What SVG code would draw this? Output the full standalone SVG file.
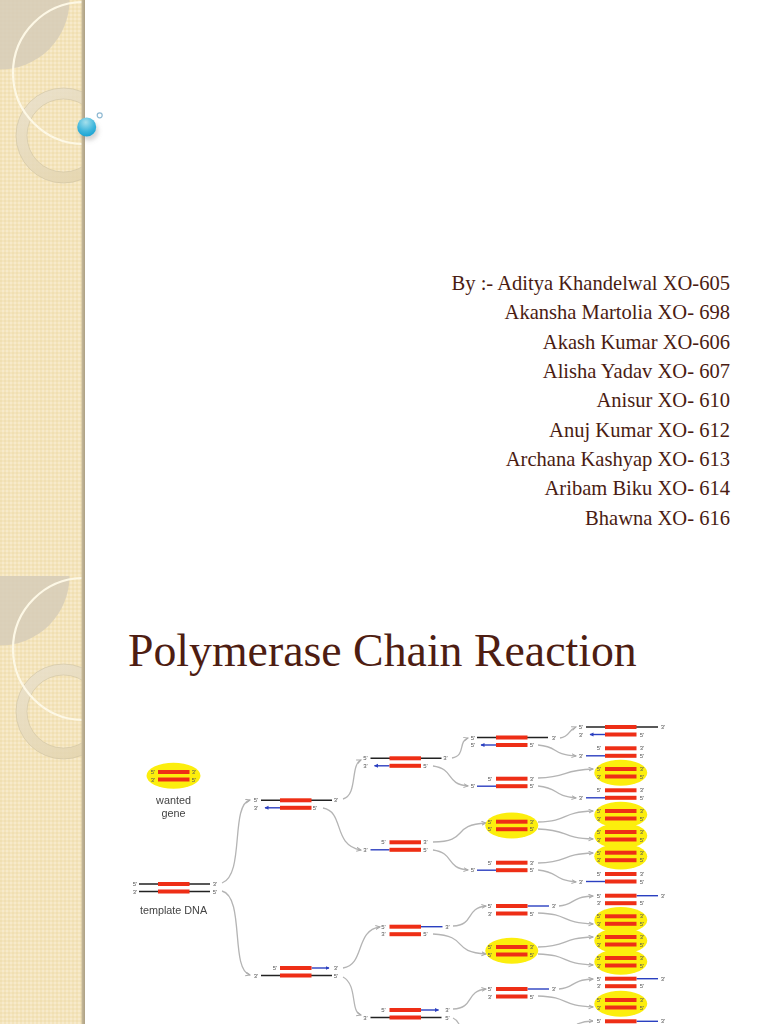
<svg xmlns="http://www.w3.org/2000/svg" width="768" height="1024" viewBox="0 0 768 1024">
<style>
.n{font-family:"Liberation Serif","Times New Roman",serif;font-size:20.55px;fill:#4a1c12;text-anchor:end}
.t{font-family:"Liberation Serif","Times New Roman",serif;font-size:45.8px;fill:#4e1d12}
.c{font-family:"Liberation Sans",Arial,sans-serif;font-size:10.8px;fill:#444;text-anchor:middle}
.l{font-family:"Liberation Sans",Arial,sans-serif;font-size:6px;fill:#555;text-anchor:middle}
.b{fill:#ee2e14}
.k{stroke:#222;stroke-width:1.4;fill:none}
.u{stroke:#2c3fc0;stroke-width:1.4;fill:none}
.y{fill:#fcee10}
.a{marker-end:url(#blue)}
#connectors path{fill:none;stroke:#b4b4b4;stroke-width:1.3;marker-end:url(#gray)}
</style>
<defs>
<pattern id="weave" width="4" height="4" patternUnits="userSpaceOnUse">
<rect width="4" height="4" fill="#f4e4bc"/>
<rect width="2" height="2" fill="#f0dfb2"/>
<rect x="2" y="2" width="2" height="2" fill="#f7eacb"/>
</pattern>
<linearGradient id="edge" x1="0" x2="1" y1="0" y2="0">
<stop offset="0" stop-color="#c9bc9c"/><stop offset="1" stop-color="#ada084"/>
</linearGradient>
<linearGradient id="ringfill" x1="0" y1="0" x2="0.7" y2="1">
<stop offset="0" stop-color="#e9e1cf"/><stop offset="1" stop-color="#e3d4ae"/>
</linearGradient>
<radialGradient id="ball" cx="0.45" cy="0.25" r="0.8">
<stop offset="0" stop-color="#a5e0ec"/><stop offset="0.6" stop-color="#3fb6dc"/><stop offset="1" stop-color="#12a0d2"/>
</radialGradient>
<filter id="soft" x="-5%" y="-5%" width="110%" height="110%"><feGaussianBlur stdDeviation="0.5"/></filter>
<filter id="shadow" x="-50%" y="-50%" width="200%" height="200%"><feGaussianBlur stdDeviation="2"/></filter>
<clipPath id="panel"><rect width="82" height="1024"/></clipPath>
<marker id="gray" markerWidth="6" markerHeight="6" refX="4.5" refY="2.5" orient="auto" markerUnits="userSpaceOnUse"><path d="M0 0.5L4.5 2.5L0 4.5" fill="none" stroke="#aaa" stroke-width="1"/></marker>
<marker id="blue" markerWidth="6" markerHeight="6" refX="3.5" refY="2" orient="auto" markerUnits="userSpaceOnUse"><path d="M0 0L4 2L0 4Z" fill="#2c3fc0"/></marker>
</defs>

<rect width="768" height="1024" fill="#fff"/>
<g id="side-panel">
<rect width="82" height="1024" fill="url(#weave)"/>
<g clip-path="url(#panel)">
<g id="decor-top">
<circle cx="0" cy="0" r="69.5" fill="#d6cdb8" fill-opacity="0.85"/>
<path fill-rule="evenodd" d="M16 135.500a47.500 47.500 0 1 0 95 0a47.500 47.500 0 1 0 -95 0ZM27 135.500a36.500 36.500 0 1 0 73 0a36.500 36.500 0 1 0 -73 0Z" fill="url(#ringfill)" fill-opacity="0.85" stroke="#cfc2a2" stroke-width="0.6"/>
<circle cx="84" cy="73" r="71" fill="none" stroke="#fdf8e6" stroke-width="2.2"/>
</g>
<g id="decor-bottom" transform="translate(0 576)">
<circle cx="0" cy="0" r="69.500" fill="#d6cdb8" fill-opacity="0.85"/>
<rect x="-1" y="-80" width="90" height="80" fill="url(#weave)"/>
<path fill-rule="evenodd" d="M16 135.500a47.500 47.500 0 1 0 95 0a47.500 47.500 0 1 0 -95 0ZM27 135.500a36.500 36.500 0 1 0 73 0a36.500 36.500 0 1 0 -73 0Z" fill="url(#ringfill)" fill-opacity="0.85" stroke="#cfc2a2" stroke-width="0.6"/>
<circle cx="84" cy="73" r="71" fill="none" stroke="#fdf8e6" stroke-width="2.2"/>
</g>
</g>
<rect x="81.500" width="3.500" height="1024" fill="url(#edge)"/>
<circle cx="89" cy="131" r="9.500" fill="#888" fill-opacity="0.35" filter="url(#shadow)"/>
<circle cx="86.700" cy="127" r="9.500" fill="url(#ball)"/>
<circle cx="99.700" cy="115.300" r="2.500" fill="#fff" stroke="#8fb9d2" stroke-width="1.200"/>
</g>

<g id="authors">
<text class="n" x="730" y="290">By :- Aditya Khandelwal XO-605</text>
<text class="n" x="730" y="319">Akansha Martolia XO- 698</text>
<text class="n" x="730" y="349">Akash Kumar XO-606</text>
<text class="n" x="730" y="378">Alisha Yadav XO- 607</text>
<text class="n" x="730" y="407">Anisur XO- 610</text>
<text class="n" x="730" y="437">Anuj Kumar XO- 612</text>
<text class="n" x="730" y="466">Archana Kashyap XO- 613</text>
<text class="n" x="730" y="495">Aribam Biku XO- 614</text>
<text class="n" x="730" y="525">Bhawna XO- 616</text>
</g>
<text id="title" class="t" x="128" y="666">Polymerase Chain Reaction</text>

<g id="pcr" filter="url(#soft)">
<g id="connectors">
<path d="M222 883C245 875 230 805 250 800"/>
<path d="M222 891C245 897 230 970 250 975"/>
<path d="M343 799C358 795 350 765 361 760"/>
<path d="M323 808C345 812 332 845 361 850"/>
<path d="M343 968C365 965 355 930 380 927"/>
<path d="M343 977C358 985 350 1012 361 1015"/>
<path d="M452 758C466 756 458 741 468 738"/>
<path d="M433 766C455 769 445 784 468 786"/>
<path d="M433 842C470 842 450 825 486 823"/>
<path d="M433 850C455 853 445 868 468 870"/>
<path d="M453 926C475 925 465 908 486 906"/>
<path d="M433 934C470 936 450 952 486 954"/>
<path d="M453 1009C475 1008 465 991 486 989"/>
<path d="M453 1018C458 1020 460 1026 462 1032"/>
<path d="M560 738C570 737 568 730 576 727"/>
<path d="M538 745C560 747 550 754 576 756"/>
<path d="M538 778C570 777 560 770 593 769"/>
<path d="M538 786C560 788 552 796 576 798"/>
<path d="M538 822C570 821 560 812 593 811"/>
<path d="M538 829C570 830 560 838 593 839"/>
<path d="M538 863C570 862 560 854 593 853"/>
<path d="M538 870C560 872 552 880 576 882"/>
<path d="M559 906C575 905 570 897 593 896"/>
<path d="M538 913C570 914 560 923 593 924"/>
<path d="M538 947C570 946 560 938 593 937"/>
<path d="M538 954C570 955 560 964 593 965"/>
<path d="M559 989C575 988 570 980 593 979"/>
<path d="M538 996C570 997 560 1006 593 1007"/>
<path d="M577 1024C582 1022 586 1021 593 1021"/>
</g>

<g id="wanted-gene" transform="translate(158 772)">
<ellipse class="y" cx="15.500" cy="3.750" rx="27" ry="13"/>
<rect class="b" y="-2" width="31.500" height="4"/><rect class="b" y="5.500" width="31.500" height="4"/>
<text class="l" x="-5" y="2">5'</text><text class="l" x="36" y="2">3'</text><text class="l" x="-5" y="9.500">3'</text><text class="l" x="36" y="9.500">5'</text>
<text class="c" x="15.500" y="32">wanted</text><text class="c" x="15.500" y="45">gene</text>
</g>
<g id="template-dna" transform="translate(158 884)">
<path class="k" d="M-19 0H52M-19 7.500H52"/>
<rect class="b" y="-2" width="31.500" height="4"/><rect class="b" y="5.500" width="31.500" height="4"/>
<text class="l" x="-23" y="2">5'</text><text class="l" x="57" y="2">3'</text><text class="l" x="-23" y="9.500">3'</text><text class="l" x="57" y="9.500">5'</text>
<text class="c" x="15.500" y="30">template DNA</text>
</g>

<g id="c2a" transform="translate(280 800.300)"><path class="k" d="M-19 0H52"/><path class="u a" d="M0 7.500H-15"/><rect class="b" y="-2" width="31.500" height="4"/><rect class="b" y="5.500" width="31.500" height="4"/><text class="l" x="-24" y="2">5'</text><text class="l" x="56" y="2">3'</text><text class="l" x="-24" y="9.500">3'</text><text class="l" x="35" y="9.500">5'</text></g>
<g id="c2b" transform="translate(280 968)"><path class="u a" d="M31.500 0H49"/><path class="k" d="M-19 7.500H52"/><rect class="b" y="-2" width="31.500" height="4"/><rect class="b" y="5.500" width="31.500" height="4"/><text class="l" x="-5" y="2">5'</text><text class="l" x="56" y="2">3'</text><text class="l" x="-24" y="9.500">3'</text><text class="l" x="56" y="9.500">5'</text></g>

<g id="c3a" transform="translate(389.500 758.300)"><path class="k" d="M-19 0H52"/><path class="u a" d="M0 7.500H-15"/><rect class="b" y="-2" width="31.500" height="4"/><rect class="b" y="5.500" width="31.500" height="4"/><text class="l" x="-24" y="2">5'</text><text class="l" x="56" y="2">3'</text><text class="l" x="-24" y="9.500">3'</text><text class="l" x="36" y="9.500">5'</text></g>
<g id="c3b" transform="translate(389.500 842.300)"><path class="u" d="M-19 7.500H0"/><rect class="b" y="-2" width="31.500" height="4"/><rect class="b" y="5.500" width="31.500" height="4"/><text class="l" x="-6" y="2">5'</text><text class="l" x="36" y="2">3'</text><text class="l" x="-24" y="9.500">3'</text><text class="l" x="36" y="9.500">5'</text></g>
<g id="c3c" transform="translate(389.500 926.700)"><path class="u" d="M31.500 0H53"/><rect class="b" y="-2" width="31.500" height="4"/><rect class="b" y="5.500" width="31.500" height="4"/><text class="l" x="-6" y="2">5'</text><text class="l" x="58" y="2">3'</text><text class="l" x="-6" y="9.500">3'</text><text class="l" x="36" y="9.500">5'</text></g>
<g id="c3d" transform="translate(389.500 1010)"><path class="u a" d="M31.500 0H49"/><path class="k" d="M-19 7.500H52"/><rect class="b" y="-2" width="31.500" height="4"/><rect class="b" y="5.500" width="31.500" height="4"/><text class="l" x="-6" y="2">5'</text><text class="l" x="58" y="2">3'</text><text class="l" x="-24" y="9.500">3'</text><text class="l" x="58" y="9.500">5'</text></g>

<g id="c4a" transform="translate(496 737.500)"><path class="k" d="M-19 0H52"/><path class="u a" d="M0 7.500H-15"/><rect class="b" y="-2" width="31.500" height="4"/><rect class="b" y="5.500" width="31.500" height="4"/><text class="l" x="-23" y="2">5'</text><text class="l" x="58" y="2">3'</text><text class="l" x="-23" y="9.500">5'</text><text class="l" x="36" y="9.500">5'</text></g>
<g id="c4b" transform="translate(496 778.700)"><path class="u" d="M-19 7.500H0"/><rect class="b" y="-2" width="31.500" height="4"/><rect class="b" y="5.500" width="31.500" height="4"/><text class="l" x="-6" y="2">5'</text><text class="l" x="36" y="2">3'</text><text class="l" x="-23" y="9.500">5'</text><text class="l" x="36" y="9.500">5'</text></g>
<g id="c4c" transform="translate(496 821.700)"><ellipse class="y" cx="15.750" cy="3.750" rx="26.500" ry="13"/><rect class="b" y="-2" width="31.500" height="4"/><rect class="b" y="5.500" width="31.500" height="4"/><text class="l" x="-6" y="2">5'</text><text class="l" x="36" y="2">3'</text><text class="l" x="-6" y="9.500">5'</text><text class="l" x="36" y="9.500">5'</text></g>
<g id="c4d" transform="translate(496 862.700)"><path class="u" d="M-19 7.500H0"/><rect class="b" y="-2" width="31.500" height="4"/><rect class="b" y="5.500" width="31.500" height="4"/><text class="l" x="-6" y="2">5'</text><text class="l" x="36" y="2">3'</text><text class="l" x="-23" y="9.500">5'</text><text class="l" x="36" y="9.500">5'</text></g>
<g id="c4e" transform="translate(496 906)"><path class="u" d="M31.500 0H53"/><rect class="b" y="-2" width="31.500" height="4"/><rect class="b" y="5.500" width="31.500" height="4"/><text class="l" x="-6" y="2">5'</text><text class="l" x="58" y="2">3'</text><text class="l" x="-6" y="9.500">3'</text><text class="l" x="36" y="9.500">5'</text></g>
<g id="c4f" transform="translate(496 947)"><ellipse class="y" cx="15.750" cy="3.750" rx="26.500" ry="13"/><rect class="b" y="-2" width="31.500" height="4"/><rect class="b" y="5.500" width="31.500" height="4"/><text class="l" x="-6" y="2">5'</text><text class="l" x="36" y="2">3'</text><text class="l" x="-6" y="9.500">5'</text><text class="l" x="36" y="9.500">5'</text></g>
<g id="c4g" transform="translate(496 989)"><path class="u" d="M31.500 0H53"/><rect class="b" y="-2" width="31.500" height="4"/><rect class="b" y="5.500" width="31.500" height="4"/><text class="l" x="-6" y="2">5'</text><text class="l" x="58" y="2">3'</text><text class="l" x="-6" y="9.500">3'</text><text class="l" x="36" y="9.500">5'</text></g>

<g id="c5a" transform="translate(605 727)"><path class="k" d="M-19 0H53"/><path class="u a" d="M0 7.500H-15"/><rect class="b" y="-2" width="31.500" height="4"/><rect class="b" y="5.500" width="31.500" height="4"/><text class="l" x="-24" y="2">5'</text><text class="l" x="58" y="2">3'</text><text class="l" x="-24" y="9.500">3'</text><text class="l" x="37" y="9.500">5'</text></g>
<g id="c5b" transform="translate(605 748.300)"><path class="u" d="M-19 7.500H0"/><rect class="b" y="-2" width="31.500" height="4"/><rect class="b" y="5.500" width="31.500" height="4"/><text class="l" x="-6" y="2">5'</text><text class="l" x="37" y="2">3'</text><text class="l" x="-24" y="9.500">3'</text><text class="l" x="37" y="9.500">5'</text></g>
<g id="c5c" transform="translate(605 769)"><ellipse class="y" cx="15.750" cy="3.750" rx="26.500" ry="13"/><rect class="b" y="-2" width="31.500" height="4"/><rect class="b" y="5.500" width="31.500" height="4"/><text class="l" x="-6" y="2">5'</text><text class="l" x="37" y="2">3'</text><text class="l" x="-6" y="9.500">3'</text><text class="l" x="37" y="9.500">5'</text></g>
<g id="c5d" transform="translate(605 790.300)"><path class="u" d="M-19 7.500H0"/><rect class="b" y="-2" width="31.500" height="4"/><rect class="b" y="5.500" width="31.500" height="4"/><text class="l" x="-6" y="2">5'</text><text class="l" x="37" y="2">3'</text><text class="l" x="-24" y="9.500">3'</text><text class="l" x="37" y="9.500">5'</text></g>
<g id="c5e" transform="translate(605 811)"><ellipse class="y" cx="15.750" cy="3.750" rx="26.500" ry="13"/><rect class="b" y="-2" width="31.500" height="4"/><rect class="b" y="5.500" width="31.500" height="4"/><text class="l" x="-6" y="2">5'</text><text class="l" x="37" y="2">3'</text><text class="l" x="-6" y="9.500">3'</text><text class="l" x="37" y="9.500">5'</text></g>
<g id="c5f" transform="translate(605 832)"><ellipse class="y" cx="15.750" cy="3.750" rx="26.500" ry="13"/><rect class="b" y="-2" width="31.500" height="4"/><rect class="b" y="5.500" width="31.500" height="4"/><text class="l" x="-6" y="2">5'</text><text class="l" x="37" y="2">3'</text><text class="l" x="-6" y="9.500">3'</text><text class="l" x="37" y="9.500">5'</text></g>
<g id="c5g" transform="translate(605 852.700)"><ellipse class="y" cx="15.750" cy="3.750" rx="26.500" ry="13"/><rect class="b" y="-2" width="31.500" height="4"/><rect class="b" y="5.500" width="31.500" height="4"/><text class="l" x="-6" y="2">5'</text><text class="l" x="37" y="2">3'</text><text class="l" x="-6" y="9.500">3'</text><text class="l" x="37" y="9.500">5'</text></g>
<g id="c5h" transform="translate(605 874)"><path class="u" d="M-19 7.500H0"/><rect class="b" y="-2" width="31.500" height="4"/><rect class="b" y="5.500" width="31.500" height="4"/><text class="l" x="-6" y="2">5'</text><text class="l" x="37" y="2">3'</text><text class="l" x="-24" y="9.500">3'</text><text class="l" x="37" y="9.500">5'</text></g>
<g id="c5i" transform="translate(605 895.700)"><path class="u" d="M31.500 0H53"/><rect class="b" y="-2" width="31.500" height="4"/><rect class="b" y="5.500" width="31.500" height="4"/><text class="l" x="-6" y="2">5'</text><text class="l" x="58" y="2">3'</text><text class="l" x="-6" y="9.500">3'</text><text class="l" x="37" y="9.500">5'</text></g>
<g id="c5j" transform="translate(605 916.300)"><ellipse class="y" cx="15.750" cy="3.750" rx="26.500" ry="13"/><rect class="b" y="-2" width="31.500" height="4"/><rect class="b" y="5.500" width="31.500" height="4"/><text class="l" x="-6" y="2">5'</text><text class="l" x="37" y="2">3'</text><text class="l" x="-6" y="9.500">3'</text><text class="l" x="37" y="9.500">5'</text></g>
<g id="c5k" transform="translate(605 937)"><ellipse class="y" cx="15.750" cy="3.750" rx="26.500" ry="13"/><rect class="b" y="-2" width="31.500" height="4"/><rect class="b" y="5.500" width="31.500" height="4"/><text class="l" x="-6" y="2">5'</text><text class="l" x="37" y="2">3'</text><text class="l" x="-6" y="9.500">3'</text><text class="l" x="37" y="9.500">5'</text></g>
<g id="c5l" transform="translate(605 958)"><ellipse class="y" cx="15.750" cy="3.750" rx="26.500" ry="13"/><rect class="b" y="-2" width="31.500" height="4"/><rect class="b" y="5.500" width="31.500" height="4"/><text class="l" x="-6" y="2">5'</text><text class="l" x="37" y="2">3'</text><text class="l" x="-6" y="9.500">3'</text><text class="l" x="37" y="9.500">5'</text></g>
<g id="c5m" transform="translate(605 978.700)"><path class="u" d="M31.500 0H53"/><rect class="b" y="-2" width="31.500" height="4"/><rect class="b" y="5.500" width="31.500" height="4"/><text class="l" x="-6" y="2">5'</text><text class="l" x="58" y="2">3'</text><text class="l" x="-6" y="9.500">3'</text><text class="l" x="37" y="9.500">5'</text></g>
<g id="c5n" transform="translate(605 1000)"><ellipse class="y" cx="15.750" cy="3.750" rx="26.500" ry="13"/><rect class="b" y="-2" width="31.500" height="4"/><rect class="b" y="5.500" width="31.500" height="4"/><text class="l" x="-6" y="2">5'</text><text class="l" x="37" y="2">3'</text><text class="l" x="-6" y="9.500">3'</text><text class="l" x="37" y="9.500">5'</text></g>
<g id="c5o" transform="translate(605 1021.300)"><path class="u" d="M31.500 0H53"/><rect class="b" y="-2" width="31.500" height="4"/><text class="l" x="-6" y="2">5'</text><text class="l" x="58" y="2">3'</text></g>
</g>
</svg>
